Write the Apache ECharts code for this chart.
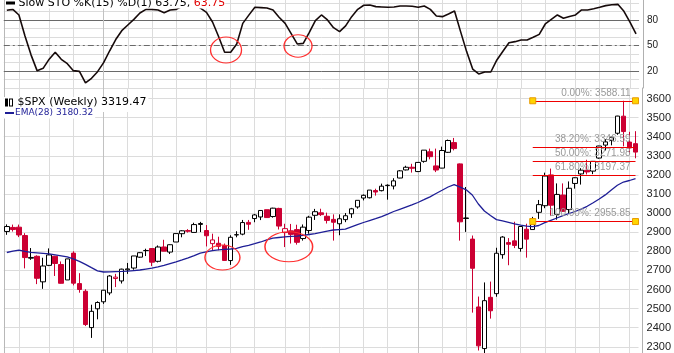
<!DOCTYPE html>
<html><head><meta charset="utf-8">
<script src="https://cdn.jsdelivr.net/npm/echarts@6/dist/echarts.min.js"></script>
<style>html,body{margin:0;padding:0;background:#fff}#c{width:674px;height:353px}</style>
</head><body><div id="c"></div>
<script>
const dates = ['2018-09-17','2018-09-24','2018-10-01','2018-10-08','2018-10-15','2018-10-22','2018-10-29','2018-11-05','2018-11-12','2018-11-19','2018-11-26','2018-12-03','2018-12-10','2018-12-17','2018-12-24','2018-12-31',
'2019-01-07','2019-01-14','2019-01-21','2019-01-28','2019-02-04','2019-02-11','2019-02-18','2019-02-25','2019-03-04','2019-03-11','2019-03-18','2019-03-25','2019-04-01','2019-04-08','2019-04-15','2019-04-22','2019-04-29','2019-05-06','2019-05-13','2019-05-20','2019-05-27','2019-06-03','2019-06-10','2019-06-17','2019-06-24','2019-07-01','2019-07-08','2019-07-15','2019-07-22','2019-07-29','2019-08-05','2019-08-12','2019-08-19','2019-08-26','2019-09-02','2019-09-09','2019-09-16','2019-09-23','2019-09-30','2019-10-07','2019-10-14','2019-10-21','2019-10-28','2019-11-04','2019-11-11','2019-11-18','2019-11-25','2019-12-02','2019-12-09','2019-12-16','2019-12-23','2019-12-30',
'2020-01-06','2020-01-13','2020-01-20','2020-01-27','2020-02-03','2020-02-10','2020-02-17','2020-02-24','2020-03-02','2020-03-09','2020-03-16','2020-03-23','2020-03-30','2020-04-06','2020-04-13','2020-04-20','2020-04-27','2020-05-04','2020-05-11','2020-05-18','2020-05-25','2020-06-01','2020-06-08','2020-06-15','2020-06-22','2020-06-29','2020-07-06','2020-07-13','2020-07-20','2020-07-27','2020-08-03','2020-08-10','2020-08-17','2020-08-24','2020-08-31','2020-09-07','2020-09-14'];

const opens = [2903.83,2924.94,2926.29,2882.51,2763.83,2773.94,2640.12,2726.37,2773.93,2730.74,
2649.97,2790.50,2630.86,2590.75,2400.56,2498.94,2535.61,2582.10,2657.44,2644.89,
2703.05,2712.40,2769.28,2804.35,2814.37,2747.61,2822.61,2796.01,2848.63,2892.17,
2908.32,2898.78,2940.58,2908.89,2840.19,2841.94,2830.03,2751.53,2885.83,2889.75,
2951.42,2971.41,2979.77,3017.80,2981.93,3024.47,2898.07,2907.07,2913.48,2866.70,
2909.01,2988.43,3001.50,2983.50,2967.07,2944.23,2965.81,2996.48,3032.12,3078.96,
3080.33,3117.91,3117.44,3143.85,3141.86,3183.63,3226.05,3240.09,3217.55,3271.13,
3321.03,3247.16,3235.66,3318.28,3369.04,3257.61,2974.28,2863.89,2508.59,2290.71,
2558.98,2578.28,2782.46,2845.62,2854.65,2815.01,2915.46,2913.86,3004.08,3038.78,
3199.92,2993.76,3094.42,3018.59,3155.29,3205.08,3224.29,3219.84,3288.26,3356.04,
3380.86,3418.09,3507.44,3371.88,3363.56];

const highs = [2940.91,2939.86,2939.86,2894.83,2816.94,2778.94,2766.27,2815.15,2775.99,2746.75,
2760.88,2800.18,2685.44,2601.13,2520.27,2538.07,2597.82,2675.47,2681.83,2708.95,
2738.98,2775.66,2795.05,2813.49,2816.88,2830.73,2860.31,2836.03,2893.42,2910.54,
2916.06,2949.52,2954.13,2937.32,2892.15,2876.31,2840.51,2884.00,2905.00,2964.15,
2964.15,2995.84,3013.92,3017.80,3027.98,3027.98,2944.23,2943.31,2939.08,2940.43,
2985.86,3021.99,3022.86,3002.43,2993.28,2993.28,3000.42,3027.39,3066.95,3097.77,
3120.46,3127.64,3154.26,3150.60,3182.68,3225.65,3247.93,3258.14,3267.07,3329.88,
3337.77,3337.58,3347.96,3385.09,3393.52,3259.81,3136.72,2882.59,2562.98,2637.01,
2641.39,2818.57,2879.22,2869.09,2954.86,2932.16,2944.25,2980.29,3068.67,3211.72,
3233.13,3155.53,3155.53,3165.81,3187.00,3235.32,3279.32,3272.17,3352.54,3387.89,
3399.54,3509.23,3588.11,3425.55,3428.92];

const lows = [2886.16,2903.28,2874.27,2710.51,2755.18,2628.16,2603.54,2722.28,2670.75,2631.09,
2649.97,2621.53,2583.23,2408.55,2346.58,2443.96,2524.56,2570.41,2612.67,2631.29,
2681.83,2703.71,2766.09,2775.13,2722.27,2741.76,2800.50,2785.68,2848.63,2873.34,
2898.00,2898.78,2900.50,2825.39,2801.43,2805.49,2750.52,2728.81,2873.38,2883.82,
2912.52,2952.22,2963.44,2975.65,2976.22,2914.14,2822.12,2840.60,2834.97,2856.00,
2891.85,2964.15,2985.04,2945.53,2855.96,2884.04,2952.56,2974.87,3023.19,3066.53,
3076.88,3091.41,3113.74,3070.33,3124.08,3182.23,3223.49,3212.03,3214.64,3263.88,
3281.53,3214.64,3234.50,3315.19,3328.45,2855.84,2901.54,2478.86,2280.52,2191.86,
2447.49,2562.17,2761.20,2727.10,2816.78,2797.85,2766.64,2913.86,2969.75,3025.65,
2984.47,2965.66,3007.41,3000.42,3128.00,3149.27,3202.39,3204.00,3284.53,3328.00,
3354.69,3410.00,3349.63,3310.00,3287.00];

const closes = [2929.67,2913.98,2885.57,2767.13,2767.78,2658.69,2723.06,2781.01,2736.27,2632.56,
2760.17,2633.08,2599.95,2416.62,2485.74,2531.94,2596.26,2670.71,2664.76,2706.53,
2707.88,2775.60,2792.67,2803.69,2743.07,2822.48,2800.71,2834.40,2892.74,2907.41,
2905.03,2939.88,2945.64,2881.40,2859.53,2826.06,2752.06,2873.34,2886.98,2950.46,
2941.76,2990.41,3013.77,2976.61,3025.86,2932.05,2918.65,2888.68,2847.11,2926.46,
2978.71,3007.39,2992.07,2961.79,2952.01,2970.27,2986.20,3022.55,3066.91,3093.08,
3120.46,3110.29,3140.98,3145.91,3168.80,3221.22,3240.02,3234.85,3265.35,3329.62,
3295.47,3225.52,3327.71,3380.16,3337.75,2954.22,2972.37,2711.02,2304.92,2541.47,
2488.65,2789.82,2874.56,2836.74,2830.71,2929.80,2863.70,2955.45,3044.31,3193.93,
3041.31,3097.74,3009.05,3130.01,3185.04,3224.73,3215.63,3271.12,3351.28,3372.85,
3397.16,3508.01,3426.96,3340.97,3319.47];

const prevClose = 2904.98;

const ema28 = [2793.7,2800.5,2806.3,2800,2794.2,2791.6,2789,2786.4,2781.7,2776.5,
2770.7,2760.2,2747.1,2731.4,2714.2,2697.4,2691.6,2692.6,2693.7,2694.7,
2695.8,2698.9,2702,2706.8,2711.6,2718.3,2725.7,2735.6,2745.1,2755,
2765.5,2777.5,2790.1,2797.4,2803.7,2807.9,2810.5,2812.1,2815.7,2824.6,
2831.4,2839.8,2848.7,2860.2,2868.6,2872.3,2875.4,2878,2879.6,2883.8,
2888,2892.7,2899,2905.3,2911.5,2913.6,2915.7,2927.7,2939.2,2950.8,
2961.2,2971.2,2981.7,2994.8,3008.4,3019.9,3031.4,3043,3055.5,3070.1,
3085.3,3102.6,3119.4,3136.7,3149.2,3135.6,3122,3094.8,3047.6,3011,
2987.4,2966,2959.7,2951.8,2943.5,2936.6,2931.9,2929.3,2935,2949.8,
2962.3,2974.3,2986.9,2997.9,3008.4,3020.9,3035.6,3054.5,3073.8,3095.3,
3120.9,3146,3162.8,3170.7,3180.32];

const slowK = [91.5,92.5,85.9,61.2,39,20.4,23.1,33.9,42,33.7,
28.6,20.4,19.6,5.9,11.4,19.2,29.8,43.8,57,67.4,
74.1,80.7,88.2,92.5,92.5,91.8,88.6,91.8,92.5,96,
98,98,94,89,77.6,60.6,42,42,51.8,76,
85.7,94.9,94.5,94.1,91.8,83.2,76,63.9,51.8,52.5,
65.5,79.2,85.9,80,71,66.3,73,83.9,92.5,97.3,
97.6,95.7,95.3,94.9,95.3,96.5,96.5,96.1,94.9,96.5,
92.5,84.7,83.9,87,90.6,66.3,42.8,22.3,16.5,18.8,
18.8,33,43.3,53.3,54.5,56.5,56.5,59.6,63.1,75.3,
80.8,85.9,82,84.1,85.9,91.8,91.8,93.3,94.9,96.9,
98,98.4,90.2,77.4,63.75];

const priceTicks = [2300,2400,2500,2600,2700,2800,2900,3000,3100,3200,3300,3400,3500,3600];
const stoTicks = [0,10,20,30,40,50,60,70,80,90,100];
const stoLabels = [20,50,80];
const stoLevels = [80,50,20];

const fibAnchors = ['2020-05-18','2020-09-14'];
const fibPcts = [0,38.2,50,61.8,100];
const fibValues = [3588.11,3346.59,3271.98,3197.37,2955.85];

const priceNotes = [['2019-05-27',2767],['2019-08-05',2824]];
const stoNotes = [['2019-05-27',44.7],['2019-08-19',49.4]];

// ---------- build ----------
const RED = '#cc0033', BLACK = '#000000';
const candles = dates.map((d, j) => {
  const o = opens[j], c = closes[j];
  const pc = j === 0 ? prevClose : closes[j - 1];
  const stroke = c >= pc ? BLACK : RED;
  const fill = c > o ? '#ffffff' : stroke;
  return { value: [o, c, lows[j], highs[j]],
    itemStyle: { color: fill, color0: fill, borderColor: stroke, borderColor0: stroke } };
});
const monthStart = dates.map((d, j) => j > 0 && d.slice(5, 7) !== dates[j - 1].slice(5, 7));
const yearStarts = dates.filter((d, j) => monthStart[j] && d.slice(5, 7) === '01');
const last = dates.length - 1;
const kTxt = slowK[last].toFixed(2);

const FONT = 'DejaVu Sans';
const AFONT = 'Liberation Sans';
const GRID_C = '#dcdcdc';
const plain = (v) => String(v);
const txt = (size, color, lh) => ({ fontFamily: FONT, fontSize: size, fontWeight: 'normal', color: color, lineHeight: lh });

const xAxisBase = (gi) => ({
  type: 'category', gridIndex: gi, data: dates, boundaryGap: true,
  axisLine: { show: false }, axisTick: { show: false }, axisLabel: { show: false },
  splitLine: { show: true, interval: (i) => monthStart[i], alignWithLabel: true,
    lineStyle: { color: GRID_C, width: 1 } }
});

const ellipseStyle = { color: 'rgba(0,0,0,0)', borderColor: '#ff3030', borderWidth: 1.2 };
const squareStyle = { color: '#ffd400', borderColor: '#e89a00', borderWidth: 1 };

const option = {
  animation: false,
  backgroundColor: '#ffffff',
  title: [
    { left: 5, top: -2, padding: 0, backgroundColor: '#fff',
      text: '{g|}{d|}{t| Slow STO %K(15) %D(1) ' + kTxt + ', }{r|' + kTxt + '}',
      textStyle: { fontWeight: 'normal', fontSize: 11, fontFamily: FONT, rich: {
        g: { width: 1, height: 3 },
        d: { width: 9, height: 3, backgroundColor: '#000' },
        t: txt(11, '#000', 10),
        r: txt(11, '#e00000', 10) } } },
    { left: 4, top: 98.5, padding: [0, 2, 4, 0], backgroundColor: '#fff',
      text: '{g|}{c1|}{g2|}{c2|}{g3|}{t| $SPX (Weekly) ' + closes[last].toFixed(2) + '}',
      textStyle: { fontWeight: 'normal', fontSize: 11, fontFamily: FONT, rich: {
        g: { width: 1, height: 3 },
        c1: { width: 3, height: 8, backgroundColor: '#000' },
        g2: { width: 2, height: 3 },
        c2: { width: 2, height: 6, backgroundColor: '#fff', borderColor: '#000', borderWidth: 1 },
        g3: { width: 2, height: 3 },
        t: txt(11, '#000', 7) } } },
    { left: 4, top: 109.5, padding: [0, 2, 1, 0], backgroundColor: '#fff',
      text: '{g|}{e|}{g2|}{t|EMA(28) ' + ema28[last].toFixed(2) + '}',
      textStyle: { fontWeight: 'normal', fontSize: 9, fontFamily: FONT, rich: {
        g: { width: 1, height: 2 },
        e: { width: 9, height: 2, backgroundColor: '#1e1e96' },
        g2: { width: 1, height: 2 },
        t: txt(9, '#1e1e96', 7) } } }
  ],
  grid: [
    { left: 3.8, top: 0, width: 635.25, height: 88 },
    { left: 3.8, top: 88, width: 635.25, height: 265 }
  ],
  xAxis: [xAxisBase(0), xAxisBase(1)],
  yAxis: [
    { type: 'value', gridIndex: 0, position: 'right', offset: 4, min: 0, max: 103.5,
      axisLine: { show: true, lineStyle: { color: '#b0b0b0' } },
      axisTick: { show: false, customValues: stoTicks },
      axisLabel: { customValues: stoLabels, formatter: plain, fontFamily: AFONT, fontSize: 10, color: '#222', margin: 4 },
      splitLine: { show: true, lineStyle: { color: GRID_C } } },
    { type: 'value', gridIndex: 0, position: 'left', min: 0, max: 1,
      axisLine: { show: true, lineStyle: { color: '#b8b8b8' } },
      axisTick: { show: false }, axisLabel: { show: false }, splitLine: { show: false } },
    { type: 'value', gridIndex: 1, position: 'right', offset: 4, min: 2267.5, max: 3655,
      axisLine: { show: true, lineStyle: { color: '#b0b0b0' } },
      axisTick: { show: false, customValues: priceTicks },
      axisLabel: { customValues: priceTicks, formatter: plain, fontFamily: AFONT, fontSize: 11, color: '#222', margin: 4 },
      splitLine: { show: true, lineStyle: { color: GRID_C } } },
    { type: 'value', gridIndex: 1, position: 'left', min: 0, max: 1,
      axisLine: { show: true, lineStyle: { color: '#b8b8b8' } },
      axisTick: { show: false }, axisLabel: { show: false }, splitLine: { show: false } }
  ],
  series: [
    { type: 'line', name: 'Slow STO', xAxisIndex: 0, yAxisIndex: 0, data: slowK,
      symbol: 'none', lineStyle: { color: '#160a0a', width: 1.6 }, z: 3,
      markLine: { silent: true, z: 1, symbol: ['none', 'none'], label: { show: false },
        data: stoLevels.map(v => ({ yAxis: v,
          lineStyle: { color: '#6a6a6a', width: 1, type: v === 50 ? [6, 3, 2, 3] : 'solid' } }))
          .concat(yearStarts.map(d => ({ xAxis: d, lineStyle: { color: '#c2c2c2', width: 1, type: 'solid' } }))) },
      markPoint: { silent: true, label: { show: false },
        data: [
          { coord: stoNotes[0], symbol: 'circle', symbolSize: [31, 26], symbolOffset: [1.4, 0], itemStyle: ellipseStyle },
          { coord: stoNotes[1], symbol: 'circle', symbolSize: [28, 22.5], symbolOffset: [0.8, 0], itemStyle: ellipseStyle }
        ] } },
    { type: 'candlestick', name: '$SPX', xAxisIndex: 1, yAxisIndex: 2, data: candles,
      barWidth: 5, z: 2,
      markLine: { silent: true, symbol: ['none', 'none'],
        lineStyle: { color: '#ee0000', width: 1, type: 'solid' },
        label: { show: true, position: 'insideEndTop', distance: [5, 3], color: '#999999',
          fontFamily: AFONT, fontSize: 10 },
        data: fibPcts.map((p, k) => [
          { coord: [fibAnchors[0], fibValues[k]], label: { formatter: p.toFixed(2) + '%: ' + fibValues[k].toFixed(2) } },
          { coord: [fibAnchors[1], fibValues[k]] }
        ]) },
      markPoint: { silent: true, label: { show: false },
        data: [
          { coord: [fibAnchors[0], fibValues[0]], symbol: 'rect', symbolSize: 6, itemStyle: squareStyle },
          { coord: [fibAnchors[1], fibValues[0]], symbol: 'rect', symbolSize: 6, itemStyle: squareStyle },
          { coord: [fibAnchors[0], fibValues[4]], symbol: 'rect', symbolSize: 6, itemStyle: squareStyle },
          { coord: [fibAnchors[1], fibValues[4]], symbol: 'rect', symbolSize: 6, itemStyle: squareStyle },
          { coord: priceNotes[0], symbol: 'circle', symbolSize: [35, 25], symbolOffset: [-2, 0], itemStyle: ellipseStyle },
          { coord: priceNotes[1], symbol: 'circle', symbolSize: [47.7, 30], symbolOffset: [3.9, 0], itemStyle: ellipseStyle }
        ] } },
    { type: 'line', name: 'EMA(28)', xAxisIndex: 1, yAxisIndex: 2, data: ema28,
      symbol: 'none', lineStyle: { color: '#1e1e96', width: 1.3 }, z: 3,
      markLine: { silent: true, z: 1, symbol: ['none', 'none'], label: { show: false },
        data: yearStarts.map(d => ({ xAxis: d, lineStyle: { color: '#c2c2c2', width: 1, type: 'solid' } })) } }
  ]
};
const chart = echarts.init(document.getElementById('c'), null, { renderer: 'canvas' });
chart.setOption(option);
</script></body></html>
